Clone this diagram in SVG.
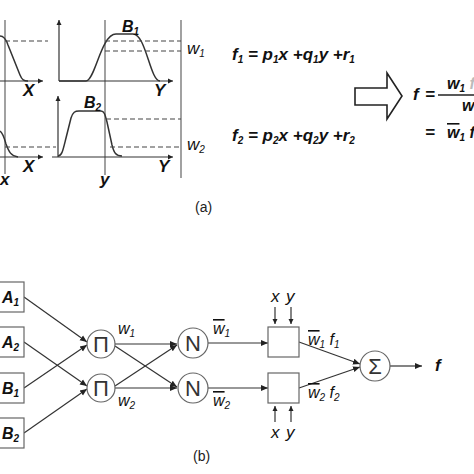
<svg xmlns="http://www.w3.org/2000/svg" width="474" height="474" viewBox="0 0 474 474">
<style>
.ax{stroke:#333;stroke-width:1.2;fill:none}
.cv{stroke:#333;stroke-width:1.5;fill:none}
.ds{stroke:#444;stroke-width:1.2;stroke-dasharray:5,3;fill:none}
.vl{stroke:#555;stroke-width:1.1;fill:none}
.ln{stroke:#333;stroke-width:1.2;fill:none}
.nd{stroke:#666;stroke-width:1.2;fill:#fff}
.t{font-family:"Liberation Sans",Arial,sans-serif;fill:#111}
.bi{font-weight:bold;font-style:italic}
.it{font-style:italic}
.sub{font-size:10px}
.cap{font-family:"Liberation Sans",Arial,sans-serif;font-size:14px;fill:#222}
.sym{font-family:"Liberation Sans",Arial,sans-serif;font-size:22px;fill:#333;text-anchor:middle}
.ov{text-decoration:overline}
</style>
<defs>
<marker id="ah" markerWidth="8" markerHeight="8" refX="7" refY="4" orient="auto" markerUnits="userSpaceOnUse">
<path d="M0,1 L7,4 L0,7 Z" fill="#222"/>
</marker>
<marker id="sa" markerWidth="6" markerHeight="6" refX="5" refY="3" orient="auto" markerUnits="userSpaceOnUse">
<path d="M0,0.5 L5,3 L0,5.5 Z" fill="#222"/>
</marker>
</defs>

<!-- (a) membership plots -->
<g id="plots">
<line class="vl" x1="5" y1="20" x2="5" y2="174"/>
<line class="vl" x1="105" y1="20" x2="105" y2="175"/>
<line class="vl" x1="181" y1="20" x2="181" y2="178"/>
<line class="ax" x1="0" y1="81" x2="43" y2="81" marker-end="url(#sa)"/>
<path class="cv" d="M0,36 C4,36 6,39 8,45 L20,75 C22,80 24,81 28,81"/>
<line class="ax" x1="59" y1="81" x2="59" y2="20" marker-end="url(#sa)"/>
<line class="ax" x1="59" y1="81" x2="173" y2="81" marker-end="url(#sa)"/>
<path class="cv" d="M59,81 L86,81 C95,81 101,34 116,34 L133,34 C146,34 150,81 160,81"/>
<line class="ax" x1="0" y1="157" x2="43" y2="157" marker-end="url(#sa)"/>
<path class="cv" d="M0,131 C3,133 4,137 6,144 C9,152 11,156 18,157"/>
<line class="ax" x1="58" y1="157" x2="58" y2="96" marker-end="url(#sa)"/>
<line class="ax" x1="52" y1="157" x2="173" y2="157" marker-end="url(#sa)"/>
<path class="cv" d="M58,156 C62,156 63,150 66,138 L71,118 C73,112 75,111 79,111 L101,111 C104,111 105,114 107,122 L112,145 C114,153 116,156 122,156"/>
<line class="ds" x1="5" y1="41" x2="48" y2="41"/>
<line class="ds" x1="105" y1="41" x2="181" y2="41"/>
<line class="ds" x1="105" y1="51" x2="181" y2="51"/>
<line class="ds" x1="5" y1="147" x2="56" y2="147"/>
<line class="ds" x1="110" y1="147" x2="181" y2="147"/>
<line class="ds" x1="106" y1="119" x2="181" y2="119"/>
<text class="t bi" x="23" y="96" font-size="17">X</text>
<text class="t bi" x="154" y="96" font-size="17">Y</text>
<text class="t bi" x="23" y="172" font-size="17">X</text>
<text class="t bi" x="158" y="172" font-size="17">Y</text>
<text class="t bi" x="0" y="185" font-size="17">x</text>
<text class="t bi" x="100" y="185" font-size="17">y</text>
<text class="t bi" x="122" y="32" font-size="16">B<tspan class="sub" dy="3">1</tspan></text>
<text class="t bi" x="84" y="108" font-size="16">B<tspan class="sub" dy="3">2</tspan></text>
<text class="t it" x="187" y="54" font-size="17">w<tspan class="sub" dy="3">1</tspan></text>
<text class="t it" x="187" y="150" font-size="17">w<tspan class="sub" dy="3">2</tspan></text>
</g>

<g id="rules">
<text class="t bi" x="232" y="60" font-size="17">f<tspan class="sub" dy="3">1</tspan><tspan dy="-3"> = p</tspan><tspan class="sub" dy="3">1</tspan><tspan dy="-3">x +q</tspan><tspan class="sub" dy="3">1</tspan><tspan dy="-3">y +r</tspan><tspan class="sub" dy="3">1</tspan></text>
<text class="t bi" x="232" y="141" font-size="17">f<tspan class="sub" dy="3">2</tspan><tspan dy="-3"> = p</tspan><tspan class="sub" dy="3">2</tspan><tspan dy="-3">x +q</tspan><tspan class="sub" dy="3">2</tspan><tspan dy="-3">y +r</tspan><tspan class="sub" dy="3">2</tspan></text>
</g>

<g id="bigarrow">
<polygon points="355,88 387,88 387,73 402,96 387,119 387,105 355,105" fill="#fff" stroke="#222" stroke-width="1.6" stroke-linejoin="miter"/>
</g>

<g id="formula">
<text class="t bi" x="413" y="100" font-size="17">f</text>
<text class="t bi" x="425" y="100" font-size="17">=</text>
<line x1="438" y1="95" x2="474" y2="95" stroke="#222" stroke-width="1.3"/>
<text class="t bi" x="447" y="89" font-size="16">w<tspan class="sub" dy="3">1</tspan><tspan dy="-3" fill="#bbb"> f</tspan></text>
<text class="t bi" x="462" y="111" font-size="16">w</text>
<text class="t bi" x="425" y="138" font-size="17">=</text>
<text class="t bi" x="447" y="138" font-size="16"><tspan class="ov">w</tspan><tspan class="sub" dy="3">1</tspan><tspan dy="-3"> f</tspan></text>
</g>

<text class="cap" x="195" y="212">(a)</text>

<!-- (b) ANFIS network -->
<g id="connectors">
<line class="ln" x1="24" y1="297" x2="87" y2="342" marker-end="url(#ah)"/>
<line class="ln" x1="24" y1="388" x2="87" y2="345" marker-end="url(#ah)"/>
<line class="ln" x1="24" y1="342" x2="87" y2="386" marker-end="url(#ah)"/>
<line class="ln" x1="24" y1="433" x2="87" y2="389" marker-end="url(#ah)"/>
<line class="ln" x1="115" y1="344" x2="177" y2="344" marker-end="url(#ah)"/>
<line class="ln" x1="115" y1="346" x2="177" y2="387" marker-end="url(#ah)"/>
<line class="ln" x1="115" y1="386" x2="177" y2="345" marker-end="url(#ah)"/>
<line class="ln" x1="115" y1="388" x2="177" y2="388" marker-end="url(#ah)"/>
<line class="ln" x1="208" y1="343" x2="268" y2="343" marker-end="url(#ah)"/>
<line class="ln" x1="208" y1="388" x2="268" y2="388" marker-end="url(#ah)"/>
<line class="ln" x1="299" y1="342" x2="360" y2="364" marker-end="url(#ah)"/>
<line class="ln" x1="299" y1="388" x2="360" y2="367" marker-end="url(#ah)"/>
<line class="ln" x1="390" y1="366" x2="422" y2="366" marker-end="url(#ah)"/>
<line class="ln" x1="275" y1="307" x2="275" y2="324" marker-end="url(#sa)"/>
<line class="ln" x1="291" y1="307" x2="291" y2="324" marker-end="url(#sa)"/>
<line class="ln" x1="275" y1="422" x2="275" y2="406" marker-end="url(#sa)"/>
<line class="ln" x1="291" y1="422" x2="291" y2="406" marker-end="url(#sa)"/>
</g>

<g id="A1"><rect class="nd" x="-6" y="282" width="30" height="30"/><text class="t bi" x="2" y="303" font-size="16">A<tspan class="sub" dy="3">1</tspan></text></g>
<g id="A2"><rect class="nd" x="-6" y="327" width="30" height="30"/><text class="t bi" x="2" y="348" font-size="16">A<tspan class="sub" dy="3">2</tspan></text></g>
<g id="B1"><rect class="nd" x="-6" y="373" width="30" height="30"/><text class="t bi" x="2" y="394" font-size="16">B<tspan class="sub" dy="3">1</tspan></text></g>
<g id="B2"><rect class="nd" x="-6" y="418" width="30" height="30"/><text class="t bi" x="2" y="439" font-size="16">B<tspan class="sub" dy="3">2</tspan></text></g>

<g id="Pi1"><circle class="nd" cx="101" cy="344" r="14"/><text class="sym" x="101" y="352">Π</text></g>
<g id="Pi2"><circle class="nd" cx="101" cy="388" r="14"/><text class="sym" x="101" y="396">Π</text></g>
<g id="N1"><circle class="nd" cx="193" cy="343" r="15"/><text class="sym" x="193" y="351">N</text></g>
<g id="N2"><circle class="nd" cx="193" cy="388" r="15"/><text class="sym" x="193" y="396">N</text></g>
<g id="Box1"><rect class="nd" x="268" y="327" width="31" height="30"/></g>
<g id="Box2"><rect class="nd" x="268" y="373" width="31" height="30"/></g>
<g id="Sigma"><circle class="nd" cx="375" cy="366" r="15"/><text class="sym" x="375" y="374">Σ</text></g>

<g id="labels">
<text class="t it" x="118" y="334" font-size="16">w<tspan class="sub" dy="3">1</tspan></text>
<text class="t it" x="118" y="406" font-size="16">w<tspan class="sub" dy="3">2</tspan></text>
<text class="t it" x="213" y="334" font-size="16"><tspan class="ov">w</tspan><tspan class="sub" dy="3">1</tspan></text>
<text class="t it" x="213" y="406" font-size="16"><tspan class="ov">w</tspan><tspan class="sub" dy="3">2</tspan></text>
<text class="t it" x="308" y="345" font-size="16"><tspan class="ov">w</tspan><tspan class="sub" dy="3">1</tspan><tspan dy="-3">  f</tspan><tspan class="sub" dy="3">1</tspan></text>
<text class="t it" x="308" y="398" font-size="16"><tspan class="ov">w</tspan><tspan class="sub" dy="3">2</tspan><tspan dy="-3">  f</tspan><tspan class="sub" dy="3">2</tspan></text>
<text class="t it" x="271" y="302" font-size="17">x</text>
<text class="t it" x="286" y="302" font-size="17">y</text>
<text class="t it" x="271" y="438" font-size="17">x</text>
<text class="t it" x="286" y="438" font-size="17">y</text>
<text class="t bi" x="435" y="371" font-size="17">f</text>
</g>

<text class="cap" x="193" y="461">(b)</text>
</svg>
